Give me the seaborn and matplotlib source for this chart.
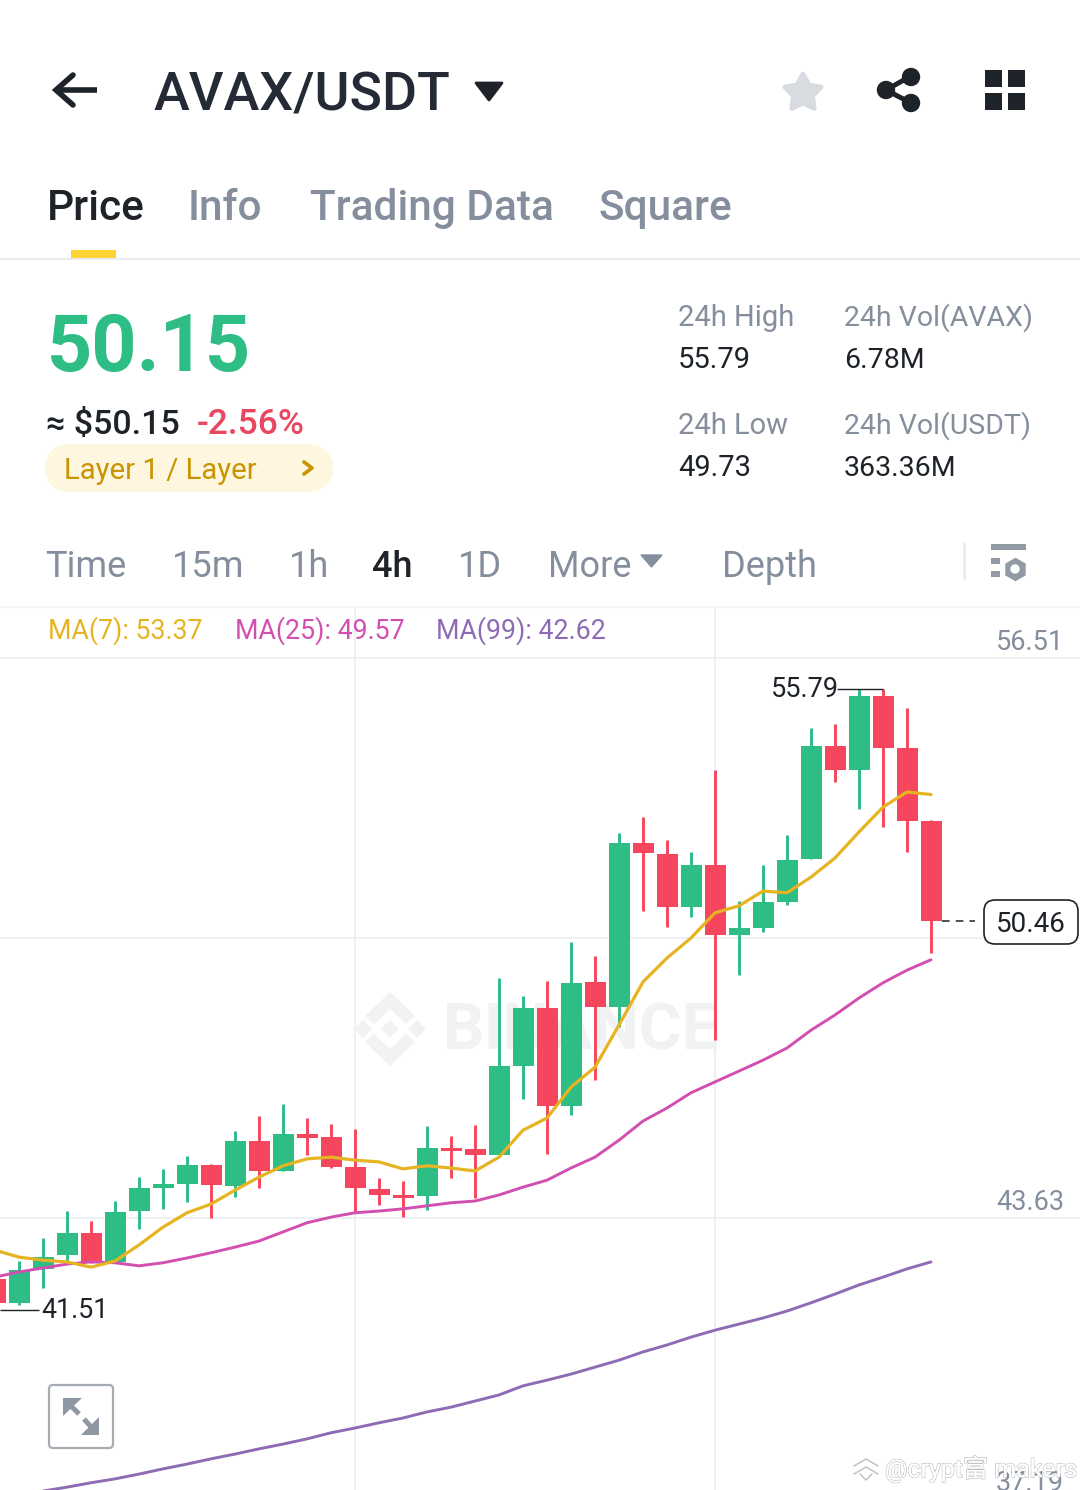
import numpy as np
import pandas as pd
import matplotlib
matplotlib.use("Agg")
import matplotlib.pyplot as plt
from matplotlib.patches import FancyBboxPatch, Polygon, Rectangle, Circle
import matplotlib.patheffects as pe
import seaborn as sns

# AVAX/USDT 4h candles
opens = [42.23, 41.68, 42.46, 42.78, 43.29, 42.62, 43.79, 44.32, 44.41, 44.85,
         44.37, 45.40, 44.71, 45.56, 45.49, 44.80, 44.30, 44.16, 44.14, 45.24,
         45.22, 45.08, 47.13, 48.46, 46.21, 49.06, 48.48, 52.26, 52.00, 50.78,
         51.75, 50.14, 50.30, 50.90, 51.89, 54.49, 53.93, 55.64, 54.44, 52.76]
highs = [42.43, 42.64, 43.17, 43.79, 43.56, 44.02, 44.57, 44.76, 45.06, 44.87,
         45.63, 45.98, 46.25, 45.93, 45.79, 45.68, 44.55, 44.48, 45.75, 45.52,
         45.77, 49.15, 48.74, 49.08, 49.98, 49.66, 52.49, 52.85, 52.32, 52.05,
         53.93, 50.92, 51.75, 52.44, 54.90, 54.99, 55.79, 55.79, 55.36, 52.78]
lows = [41.51, 41.63, 42.02, 42.62, 42.60, 42.62, 43.38, 43.84, 44.00, 43.63,
        44.11, 44.32, 44.71, 45.08, 44.78, 43.77, 43.93, 43.65, 43.81, 44.55,
        44.09, 45.08, 46.37, 45.10, 46.00, 46.80, 48.02, 50.69, 50.32, 50.55,
        47.72, 49.22, 50.21, 50.83, 51.89, 53.66, 53.04, 52.62, 52.05, 49.73]
closes = [41.68, 42.43, 42.73, 43.29, 42.62, 43.77, 44.32, 44.41, 44.85, 44.39,
          45.40, 44.71, 45.56, 45.47, 44.80, 44.32, 44.16, 44.09, 45.24, 45.17,
          45.08, 47.13, 48.46, 46.21, 49.04, 48.48, 52.26, 52.03, 50.78, 51.75,
          50.14, 50.30, 50.90, 51.86, 54.49, 53.93, 55.64, 54.44, 52.76, 50.46]
ma7 = [42.89, 42.73, 42.66, 42.62, 42.50, 42.64, 43.01, 43.42, 43.75, 43.95,
       44.27, 44.57, 44.83, 44.99, 45.03, 44.96, 44.92, 44.76, 44.83, 44.78,
       44.71, 45.03, 45.65, 45.93, 46.64, 47.10, 48.07, 49.06, 49.61, 50.07,
       50.65, 50.81, 51.15, 51.11, 51.47, 51.91, 52.51, 53.08, 53.43, 53.37]
ma25 = [42.27, 42.39, 42.48, 42.57, 42.62, 42.60, 42.53, 42.60, 42.71, 42.83,
        42.96, 43.10, 43.31, 43.52, 43.65, 43.75, 43.79, 43.84, 43.91, 43.98,
        44.02, 44.16, 44.34, 44.50, 44.78, 45.03, 45.42, 45.86, 46.16, 46.51,
        46.76, 47.01, 47.26, 47.54, 47.95, 48.30, 48.69, 49.04, 49.33, 49.57]
ma99 = [37.17, 37.26, 37.35, 37.44, 37.54, 37.63, 37.74, 37.86, 37.97, 38.09,
        38.20, 38.32, 38.43, 38.55, 38.69, 38.80, 38.92, 39.03, 39.17, 39.28,
        39.42, 39.56, 39.77, 39.90, 40.04, 40.20, 40.36, 40.55, 40.71, 40.89,
        41.05, 41.19, 41.33, 41.49, 41.68, 41.88, 42.09, 42.27, 42.46, 42.62]
price_ticks = [56.51, 50.07, 43.63]
price_labels = ["56.51", "43.63", "37.19"]
tabs = ["Price", "Info", "Trading Data", "Square"]
timeframes = ["Time", "15m", "1h", "4h", "1D", "More", "Depth"]

GREEN = "#2EBD85"
RED = "#F6465D"
DARK = "#1E2329"
GREY = "#848E9C"
YELLOW = "#E6B422"
PINK = "#D24FB0"
PURPLE = "#8D6BB5"
GRID = "#EEF0F3"

sns.set_theme(style="white")
plt.rcParams["font.family"] = ["Roboto", "Noto Sans CJK SC", "DejaVu Sans"]

fig = plt.figure(figsize=(10.8, 14.9), dpi=100, facecolor="white")


def pixel_axes(z):
    a = fig.add_axes([0, 0, 1, 1], zorder=z)
    a.set_xlim(0, 1080)
    a.set_ylim(1490, 0)
    a.axis("off")
    return a


ui = pixel_axes(0)
top = pixel_axes(3)


def label(a, x, y, s, size, color=DARK, weight="normal", ha="left"):
    return a.text(x, y, s, fontsize=size, color=color, fontweight=weight, ha=ha, va="baseline")


# header
ui.plot([56, 97], [90, 90], color=DARK, lw=4, solid_capstyle="butt")
ui.plot([73, 56, 73], [75, 90, 105], color=DARK, lw=4, solid_capstyle="round", solid_joinstyle="miter")
label(ui, 154, 110, "AVAX/USDT", 38.7, weight="medium", color="#252B36")
ui.add_patch(Polygon([(476, 83), (502, 83), (489, 100)], closed=True, color=DARK, joinstyle="round", lw=2))
star_ang = np.deg2rad(np.arange(-90, 270, 36))
star_r = np.array([19, 10] * 5)
ui.add_patch(Polygon(np.c_[803 + star_r * np.cos(star_ang), 93 + star_r * np.sin(star_ang)], closed=True,
                     fc="#D8DCE1", ec="#D8DCE1", lw=3.5, joinstyle="round"))
ui.plot([911, 886, 911], [76, 90, 103], color=DARK, lw=3.6)
for cx, cy in [(911, 77), (886, 90), (911, 103)]:
    ui.add_patch(Circle((cx, cy), 8.5, color=DARK))
for sx in (985, 1008):
    for sy in (70, 93):
        ui.add_patch(Rectangle((sx, sy), 17, 17, color=DARK, lw=0))

# tabs
for x, s, c in zip([47, 188, 310, 598], tabs, [DARK, GREY, GREY, GREY]):
    label(ui, x, 220, s, 30.5, color=c, weight="medium")
ui.add_patch(Rectangle((71, 250), 45, 8, color="#FCD535", lw=0))
ui.plot([0, 1080], [259, 259], color="#EAECEF", lw=1.5)

# price block
label(ui, 47, 371, "50.15", 57, color=GREEN, weight="bold")
label(ui, 46, 434, "≈ $50.15", 24.5, weight="medium")
label(ui, 197, 434, "-2.56%", 25.5, color="#E8475F", weight="medium")
ui.add_patch(FancyBboxPatch((57, 456), 264, 24, boxstyle="round,pad=0,rounding_size=12", mutation_aspect=1,
                            fc="#FEF6DF", ec="#FEF6DF", lw=24 * 0.72 * 0.98))
label(ui, 64, 479, "Layer 1 / Layer", 21.2, color="#C99400")
ui.plot([304, 312, 304], [462, 468, 474], color="#C99400", lw=2.6)

# 24h stats
label(ui, 678, 326, "24h High", 21, color=GREY)
label(ui, 678, 368, "55.79", 21)
label(ui, 678, 434, "24h Low", 21, color=GREY)
label(ui, 678, 476, "49.73", 21)
label(ui, 844, 326, "24h Vol(AVAX)", 20.5, color=GREY)
label(ui, 844, 368, "6.78M", 20.5)
label(ui, 844, 434, "24h Vol(USDT)", 20.5, color=GREY)
label(ui, 844, 476, "363.36M", 20.5)

# timeframe row
for x, s in zip([45, 172, 289, 372, 458, 548, 722], timeframes):
    active = s == "4h"
    label(ui, x, 577, s, 26, color=DARK if active else GREY, weight="medium" if active else "normal")
ui.add_patch(Polygon([(641, 555), (662, 555), (651.5, 567)], closed=True, color=GREY, lw=1))
ui.plot([964, 964], [543, 579], color="#EAECEF", lw=2)
ui.add_patch(Rectangle((991, 544), 35, 5.5, color="#929AA5", lw=0))
ui.add_patch(Rectangle((991, 558), 9, 5.5, color="#929AA5", lw=0))
ui.add_patch(Rectangle((991, 571), 9, 5.5, color="#929AA5", lw=0))
ui.plot([1015], [569], marker="h", ms=17, color="#929AA5", mew=0, zorder=2)
ui.add_patch(Circle((1015, 569), 4, color="white", zorder=3))
ui.plot([0, 1080], [607, 607], color="#F3F4F6", lw=1.5)

# BINANCE watermark behind the candles
mark = "#F1F2F3"
chevron = [(390, 992), (415, 1016), (406, 1024), (390, 1009), (374, 1024), (365, 1016)]
ui.add_patch(Polygon(chevron, closed=True, color=mark, lw=0))
ui.add_patch(Polygon([(x, 2058 - y) for x, y in chevron], closed=True, color=mark, lw=0))
for cx in (363, 390, 417):
    ui.add_patch(Polygon([(cx - 9, 1029), (cx, 1020), (cx + 9, 1029), (cx, 1038)], closed=True, color=mark, lw=0))
label(ui, 443, 1049, "BINANCE", 47, color=mark, weight="bold")

# candle chart
df = pd.DataFrame({"idx": np.arange(len(opens)), "open": opens, "high": highs, "low": lows, "close": closes,
                   "ma7": ma7, "ma25": ma25, "ma99": ma99})
df["color"] = np.where(df["close"] >= df["open"], GREEN, RED)

ax = fig.add_axes([0, 0, 1, (1490 - 608) / 1490], zorder=2)
ax.patch.set_alpha(0)
ax.set_xlim(5 / 24, 1085 / 24)
ax.set_ylim(37.374, 57.66)
ax.set_xticks([15, 30])
ax.set_yticks(price_ticks)
ax.grid(True, color=GRID, lw=1.4, zorder=0)
ax.set_axisbelow(True)
ax.tick_params(left=False, bottom=False, labelleft=False, labelbottom=False)
for spine in ax.spines.values():
    spine.set_visible(False)

ax.vlines(df["idx"], df["low"], df["high"], colors=df["color"], lw=2.1, zorder=2)
ax.bar(df["idx"], (df["close"] - df["open"]).abs(), bottom=df[["open", "close"]].min(axis=1),
       width=0.875, color=df["color"], lw=0, zorder=2)
sns.lineplot(data=df, x="idx", y="ma99", color=PURPLE, lw=2.1, ax=ax, zorder=3)
sns.lineplot(data=df, x="idx", y="ma25", color=PINK, lw=2.1, ax=ax, zorder=3)
sns.lineplot(data=df, x="idx", y="ma7", color=YELLOW, lw=2.3, ax=ax, zorder=3)
ax.set_xlabel("")
ax.set_ylabel("")

# high / low / last markers
ax.hlines(max(highs), 35.1, 37, color=DARK, lw=1)
ax.hlines(min(lows), 0.21, 1.85, color=DARK, lw=1)
ax.hlines(closes[-1], 39.45, 40.85, color=DARK, lw=1.1, linestyles=(0, (5, 4)))

label(top, 771, 697, f"{max(highs):.2f}", 19.5, color=DARK)
label(top, 41, 1318, f"{min(lows):.2f}", 19.4, color=DARK)
top.add_patch(FancyBboxPatch((984, 900), 94, 44, boxstyle="round,pad=0,rounding_size=11",
                             fc="white", ec=DARK, lw=1.2))
label(top, 1031, 932, f"{closes[-1]:.2f}", 20, ha="center")

# legend row and axis labels
for x, s, c in [(48, f"MA(7): {ma7[-1]:.2f}", YELLOW), (235, f"MA(25): {ma25[-1]:.2f}", PINK),
                (436, f"MA(99): {ma99[-1]:.2f}", PURPLE)]:
    label(top, x, 639, s, 19.3, color=c)
for y, s in zip([650, 1210, 1491], price_labels):
    label(top, 1064, y, s, 19.5, color=GREY, ha="right")

# expand button
top.add_patch(FancyBboxPatch((49, 1385), 64, 63, boxstyle="round,pad=0,rounding_size=4",
                             fc="white", ec="#A6ACB5", lw=1.6))
top.add_patch(Polygon([(63, 1398), (82, 1398), (63, 1416)], closed=True, color="#8F97A2", lw=0))
top.add_patch(Polygon([(99, 1435), (81, 1435), (99, 1417)], closed=True, color="#8F97A2", lw=0))
top.plot([70, 79], [1405, 1414], color="#8F97A2", lw=3.6, solid_capstyle="butt")
top.plot([84, 92], [1419, 1428], color="#8F97A2", lw=3.6, solid_capstyle="butt")

# repost watermark, white text with a grey outline
wm = top.text(885, 1477, "@crypt富 makers", fontsize=18, color="white", ha="left", va="baseline")
wm.set_path_effects([pe.withStroke(linewidth=1.0, foreground="#B8BCC2"), pe.Normal()])
for off in (0, 8):
    top.plot([854, 866, 878], [1466 + off, 1459 + off, 1466 + off], color="#BFC3C9", lw=1.1)
top.plot([860, 866, 872], [1474, 1480, 1474], color="#BFC3C9", lw=1.1)

fig.savefig("out.png", dpi=100)
